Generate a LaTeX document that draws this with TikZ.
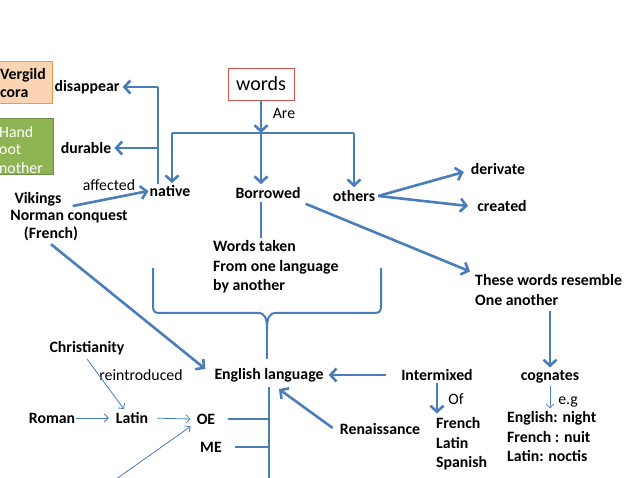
\documentclass[tikz,border=0pt]{standalone}
\usepackage{fontspec}
\setmainfont{Carlito}
\usetikzlibrary{arrows.meta}
\definecolor{ablue}{HTML}{4A7EBB}
\definecolor{orfill}{HTML}{FBD4B4}
\definecolor{ordraw}{HTML}{F79646}
\definecolor{gfill}{HTML}{8EB454}
\definecolor{wred}{HTML}{D9534F}
\begin{document}
\begin{tikzpicture}[x=1pt,y=-1pt,
  bt/.style={font=\fontsize{15.8}{19.5}\selectfont\bfseries, inner sep=1pt, text=black},
  rt/.style={font=\fontsize{15.8}{19.5}\selectfont, inner sep=1pt, text=black},
  ln/.style={draw=ablue, line width=2.6pt},
  arr/.style={draw=ablue, line width=2.6pt, -{Straight Barb[length=6pt,width=13pt]}},
  tarr/.style={draw=ablue, line width=0.8pt, -{Straight Barb[length=4pt,width=8pt]}}
]
\clip (0,0) rectangle (638,478);
\fill[white] (0,0) rectangle (638,478);

% boxes on the left
\node[draw=ordraw, fill=orfill, line width=0.8pt, minimum width=60pt, minimum height=42pt, anchor=north west] (obox) at (-8,61) {};
\node[bt, anchor=west] (vergild) at (-1,75) {Vergild};
\node[bt, anchor=west] (cora) at (-1,94) {cora};
\node[fill=gfill, draw=gfill!80!black, line width=0.6pt, minimum width=61pt, minimum height=56pt, anchor=north west] (gbox) at (-8,118) {};
\node[rt, text=white, anchor=west] (hand) at (-2,132) {Hand};
\node[rt, text=white, anchor=west] (foot) at (-2,150) {oot};
\node[rt, text=white, anchor=west] (mother) at (-2,168) {nother};

% nodes
\node[bt] (disappear) at (87,87) {disappear};
\node[bt] (durable) at (86,148) {durable};
\node[bt] (native) at (170,191) {native};
\node[draw=wred, line width=0.8pt, minimum width=66pt, minimum height=32pt, font=\fontsize{20}{24}\selectfont] (words) at (261,84) {words};
\node[rt] (are) at (284,113) {Are};
\node[bt] (borrowed) at (268,193) {Borrowed};
\node[bt] (others) at (354,196) {others};
\node[bt] (derivate) at (498,169) {derivate};
\node[bt] (created) at (502,206) {created};
\node[bt, align=left, anchor=west] (taken) at (212,267) {Words taken\\From one language\\by another};
\node[bt, align=left, anchor=west] (resemble) at (474,290) {These words resemble\\One another};
\node[bt] (cognates) at (550,377) {cognates};
\node[rt] (eg) at (568,402) {e.g};
\node[bt, align=left, anchor=west] (ex) at (506,437) {English: night\\French : nuit\\Latin: noctis};
\node[bt] (intermixed) at (437,375) {Intermixed};
\node[rt] (of) at (456,399) {Of};
\node[bt, align=left, anchor=west] (langs) at (435,444) {French\\Latin\\Spanish};
\node[bt] (renaissance) at (380,429) {Renaissance};
\node[bt] (english) at (269,375) {English language};
\node[bt] (oe) at (206,419) {OE};
\node[bt] (me) at (211,447) {ME};
\node[bt] (christianity) at (87,348) {Christianity};
\node[rt] (reintro) at (141,375) {reintroduced};
\node[bt] (roman) at (52,418) {Roman};
\node[bt] (latin) at (132,418) {Latin};
\node[bt] (vikings) at (38,199) {Vikings};
\node[bt, inner sep=0pt] (norman) at (69,217) {Norman conquest};
\node[bt, inner sep=0pt] (french) at (51,234) {(French)};
\node[rt] (affected) at (109,185) {affected};

% coordinates
\coordinate (jtop) at (158,87);
\coordinate (jmid) at (158,148);
\coordinate (jbot) at (158,184);
\coordinate (tl) at (172,133);
\coordinate (tm) at (261,133);
\coordinate (tr) at (354,133);
\coordinate (bl) at (153,268);
\coordinate (br) at (381,268);
\coordinate (bc) at (267,330);
\coordinate (vtop) at (269,387);
\coordinate (vbot) at (269,490);
\coordinate (lowstart) at (112,482);

% native branch
\draw[ln] (jbot) -- (jtop);
\draw[arr] (jtop) -- ([xshift=2pt]disappear.east);
\draw[arr] (jmid) -- ([xshift=2pt]durable.east);

% top bracket
\draw[ln] (tl) -- (tr);
\draw[arr] (words.south -| tm) -- (tm);
\draw[arr] (tl) -- ([yshift=1pt]tl |- native.north);
\draw[arr] (tm) -- ([yshift=2pt]tm |- borrowed.north);
\draw[arr] (tr) -- ([yshift=2pt]others.north);

% borrowed
\draw[ln] ([yshift=-2pt]borrowed.south -| tm) -- ([yshift=2pt]tm |- taken.north);
\draw[arr] ([shift={(4,4)}]borrowed.south east) -- ([shift={(-4,-2)}]resemble.north west);
\draw[arr] ([xshift=2pt]others.east) -- ([shift={(-6,3)}]derivate.west);
\draw[arr] ([xshift=2pt]others.east) -- ([xshift=-8pt]created.west);

% brace
\draw[draw=ablue, line width=2pt] (bl) -- (153,305) .. controls (153,313) and (155,313) .. (162,313) -- (258,313) .. controls (265,313) and (267,318) .. (bc);
\draw[draw=ablue, line width=2pt] (br) -- (381,305) .. controls (381,313) and (379,313) .. (372,313) -- (276,313) .. controls (269,313) and (267,318) .. (bc);
\draw[draw=ablue, line width=2pt] (bc) -- ([yshift=8pt]bc |- english.north);

% right side
\draw[arr] ([yshift=-4pt]resemble.south -| cognates) -- ([yshift=2pt]cognates.north);
\draw[tarr] ([yshift=-1pt]cognates.south) -- (cognates.south |- eg.south);
\draw[arr, shorten <=14pt, shorten >=4pt] (intermixed.west) -- (english.east);
\draw[arr] ([yshift=-1pt]intermixed.south) -- ([yshift=3pt]intermixed.south |- langs.north);
\draw[arr] ([shift={(-6,-1)}]renaissance.west) -- ([shift={(10,6)}]english.south);

% vertical line under English language
\draw[ln] (vtop) -- (vbot);
\draw[ln, shorten <=12pt] (oe.east) -- (oe.east -| vtop);
\draw[ln, shorten <=12pt] (me.east) -- (me.east -| vtop);

% left lower
\draw[arr] ([yshift=-3pt]french.south) -- ([shift={(-8,-6)}]english.west);
\draw[arr] ([shift={(10,7)}]vikings.east) -- (native.west);
\draw[tarr] ([yshift=-3pt]christianity.south) -- ([shift={(-8,-2)}]latin.north);
\draw[tarr] (roman.east) -- ([xshift=-6pt]latin.west);
\draw[tarr, shorten <=8pt] (latin.east) -- ([xshift=-5pt]oe.west);
\draw[tarr] (lowstart) -- ([shift={(-5,1)}]oe.south west);
\end{tikzpicture}
\end{document}
